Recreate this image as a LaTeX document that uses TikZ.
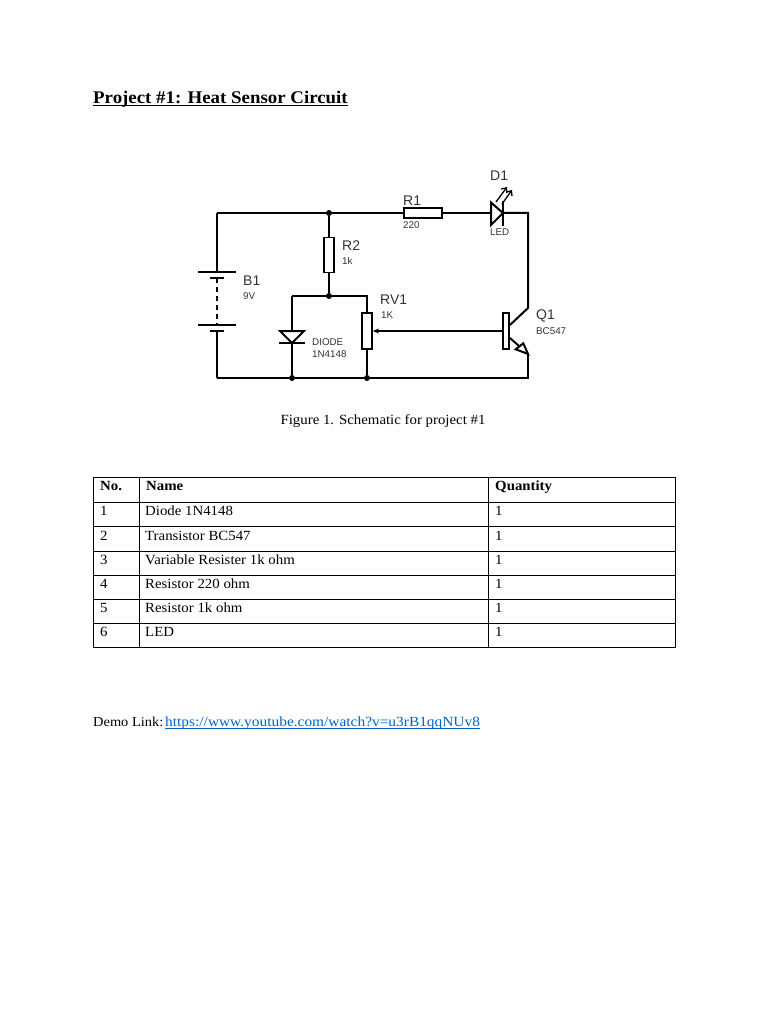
\documentclass[tikz,border=0pt]{standalone}
\usepackage{fontspec}
\setmainfont[FakeStretch=1.06]{Liberation Serif}
\newfontfamily\schemfont{Liberation Sans}
\newfontfamily\linkfont[FakeStretch=1.10]{Liberation Serif}
\usetikzlibrary{arrows.meta, positioning}
\definecolor{linkblue}{HTML}{0563C1}
\def\nameSize{\fontsize{14}{14}\selectfont}
\def\valSize{\fontsize{9.8}{11}\selectfont}
\def\bodySize{\fontsize{14}{15}\selectfont}
\def\ulbar#1{\sbox0{#1}\rlap{\rule[-2.5pt]{\wd0}{0.9pt}}\box0}

\begin{document}
\begin{tikzpicture}[x=1pt,y=-1pt]
    \tikzstyle{wire}=[draw=black, line width=2pt]
    \tikzstyle{res}=[draw=black, fill=white, line width=1.7pt, rectangle, inner sep=0pt]
    \tikzstyle{dot}=[circle, fill=black, minimum size=6pt, inner sep=0pt]
    \tikzstyle{refname}=[anchor=base west, inner sep=0pt, text=black!80, font=\schemfont\nameSize]
    \tikzstyle{refval}=[anchor=base west, inner sep=0pt, text=black!80, font=\schemfont\valSize]
    \tikzstyle{body}=[anchor=base west, inner sep=0pt, font=\bodySize]
    \tikzstyle{grid}=[draw=black, line width=1pt]

    \useasboundingbox[fill=white] (0,0) rectangle (768,1024);

    \node[anchor=base west, inner sep=0pt, font=\fontsize{17.8}{19}\selectfont\bfseries] (title) at (93,103.5) {\ulbar{Project \#1: Heat Sensor Circuit}};

    % junctions and corners
    \node[dot] (J-top) at (329,213){};
    \node[dot] (J-mid) at (329,296){};
    \node[dot] (J-dio) at (292,378){};
    \node[dot] (J-pot) at (367,378){};
    \coordinate (C-tl) at (217,213);
    \coordinate (C-bl) at (217,378);
    \coordinate (C-tr) at (528,213);
    \coordinate (C-br) at (528,378);
    \coordinate (C-dio) at (292,296);
    \coordinate (C-pot) at (367,296);
    \coordinate (Q-c) at (528,308);
    \coordinate (Q-b) at (510,325);
    \coordinate (Q-e) at (510,338);
    \coordinate (Q-t) at (528,354);

    % resistors
    \node[res, minimum width=38pt, minimum height=10pt] (R1) at (423,213){};
    \node[res, minimum width=10pt, minimum height=35pt] (R2) at (329,255){};
    \node[res, minimum width=10pt, minimum height=36pt] (RV1) at (367,331){};
    \node[res, minimum width=6pt, minimum height=36pt] (Q1) at (506,331){};

    % battery
    \coordinate (B-a) at (217,272);
    \coordinate (B-b) at (217,278);
    \coordinate (B-c) at (217,325);
    \coordinate (B-d) at (217,331);
    \draw[wire] (C-tl) -- (B-a);
    \draw[wire] ([xshift=-19pt]B-a) -- ([xshift=19pt]B-a);
    \draw[wire] ([xshift=-7pt]B-b) -- ([xshift=7pt]B-b);
    \draw[wire, dash pattern=on 5pt off 4pt] (B-b) -- (B-c);
    \draw[wire] ([xshift=-19pt]B-c) -- ([xshift=19pt]B-c);
    \draw[wire] ([xshift=-7pt]B-d) -- ([xshift=7pt]B-d);
    \draw[wire] (B-d) -- (C-bl);

    % diode
    \coordinate (D-a) at (292,331);
    \coordinate (D-k) at (292,343);
    \draw[wire] (C-dio) -- (D-a);
    \draw[wire, line join=miter] (280,331) -- (304,331) -- (D-k) -- cycle;
    \draw[wire] (279,343) -- (305,343);
    \draw[wire] (D-k) -- (J-dio);

    % led
    \coordinate (L-a) at (491,213);
    \coordinate (L-k) at (503,213);
    \draw[wire] (L-a) -- ++(0,-10.5) -- (L-k) -- (491,225) -- cycle;
    \draw[wire] (503,201) -- (503,226);
    \draw[line width=1.3pt, -{Straight Barb[length=4pt,width=7pt]}] (496,202) -- (507,187);
    \draw[line width=1.3pt, -{Straight Barb[length=4pt,width=7pt]}] (502,204) -- (512,190);

    % wires
    \draw[wire] (C-tl) -- (J-top) -- (R1) (R1) -- (L-a);
    \draw[wire] (L-k) -- (C-tr) -- (Q-c) -- (Q-b);
    \draw[wire] (J-top) -- (R2) -- (J-mid);
    \draw[wire] (C-dio) -- (J-mid) -- (C-pot) -- (RV1) -- (J-pot);
    \draw[wire] (C-bl) -- (J-dio) -- (J-pot) -- (C-br) -- (Q-t);
    \draw[line width=1.1pt, -{Stealth[length=6pt,width=5pt]}] (Q1.west |- RV1) -- (RV1.east);
    \draw[wire] (Q-e) -- (Q-t);
    \draw[wire, fill=white, line join=miter] (Q-t) -- (515.7,349.3) -- (523.3,343.3) -- cycle;

    % labels
    \node[refname] (R1-n) at (403,206) {R1};
    \node[refval] (R1-v) at (403,229) {220};
    \node[refname] (D1-n) at (490,181) {D1};
    \node[refval] (D1-v) at (490,236) {LED};
    \node[refname] (R2-n) at (342,250) {R2};
    \node[refval] (R2-v) at (342,264) {1k};
    \node[refname] (B1-n) at (243,285) {B1};
    \node[refval] (B1-v) at (243,299) {9V};
    \node[refname] (RV1-n) at (380,304) {RV1};
    \node[refval] (RV1-v) at (381,318) {1K};
    \node[refname] (Q1-n) at (536,319) {Q1};
    \node[refval] (Q1-v) at (536,334) {BC547};
    \node[refval] (D-n) at (312,345) {DIODE};
    \node[refval] (D-v) at (312,357) {1N4148};

    \node[anchor=base, inner sep=0pt, font=\bodySize] (caption) at (383,424) {Figure 1. Schematic for project \#1};

    % table
    \draw[grid] (93,477) rectangle (675,647);
    \draw[grid] (139,477) -- (139,647);
    \draw[grid] (488,477) -- (488,647);
    \foreach \y in {502,526,551,575,599,623.5}{
        \draw[grid] (93,\y) -- (675,\y);
    }
    \node[body, font=\bodySize\bfseries] (H-no) at (100,490) {No.};
    \node[body, font=\bodySize\bfseries] (H-name) at (146,490) {Name};
    \node[body, font=\bodySize\bfseries] (H-qty) at (495,490) {Quantity};
    \foreach \i/\y/\t in {1/515/Diode 1N4148, 2/540/Transistor BC547, 3/564/Variable Resister 1k ohm, 4/588/Resistor 220 ohm, 5/612/Resistor 1k ohm, 6/636/LED}{
        \node[body] (N-\i) at (100,\y) {\i};
        \node[body] (T-\i) at (145,\y) {\t};
        \node[body] (Q-\i) at (495,\y) {1};
    }

    \node[body, font=\fontsize{13.6}{15}\selectfont] (demo) at (93,726) {Demo Link:};
    \node[body, text=linkblue, font=\bodySize\linkfont] (link) at (165,726) {\ulbar{https://www.youtube.com/watch?v=u3rB1qqNUv8}};
\end{tikzpicture}
\end{document}
